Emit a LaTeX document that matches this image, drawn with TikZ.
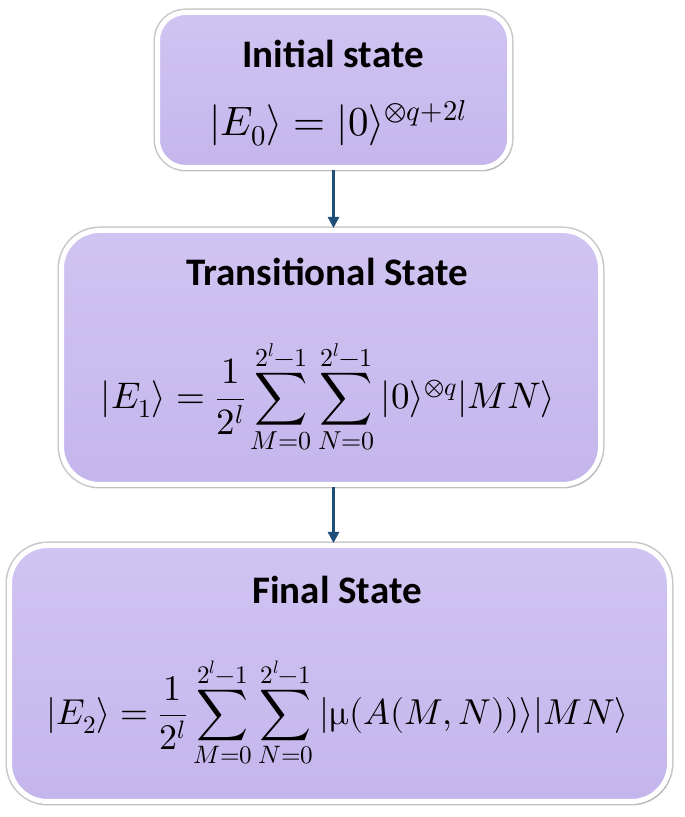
\documentclass[tikz,border=0pt]{standalone}
\usepackage{amsmath}
\usepackage{fontspec}
\usepackage{unicode-math}
\setmathfont{Latin Modern Math}
\newfontfamily\titlefont{Carlito}
\usetikzlibrary{arrows.meta,shadows}

\definecolor{boxtop}{RGB}{208,196,242}
\definecolor{boxbot}{RGB}{196,182,236}
\definecolor{flowblue}{RGB}{31,78,121}

\tikzset{
  statebox/.style={draw=white, line width=5pt, rounded corners=38pt,
    top color=boxtop, bottom color=boxbot,
    preaction={draw=black!22, line width=8pt},
    drop shadow={shadow xshift=2pt,shadow yshift=-3pt,opacity=0.3}},
  boxtitle/.style={font=\titlefont\bfseries\fontsize{39}{42}\selectfont, inner sep=0pt},
  boxeq/.style={font=\fontsize{#1}{40}\selectfont, inner sep=0pt},
  boxeq/.default=36,
  flow/.style={draw=flowblue, line width=2.5pt, -{Triangle[length=11pt,width=11pt]}}
}

\begin{document}
\begin{tikzpicture}[x=1pt,y=1pt]
\useasboundingbox[fill=white] (0,0) rectangle (685,817);
% boxes
\node[statebox, rounded corners=28pt, minimum width=352pt, minimum height=155pt] (init) at (333.5,727) {};
\node[statebox, minimum width=539pt, minimum height=254pt] (trans) at (331,459.5) {};
\node[statebox, minimum width=660pt, minimum height=256pt] (final) at (339.5,143.5) {};
% texts
\node[boxtitle] (inittitle) at (333,763) {Initial state};
\node[boxeq=41] (initeq) at (338,694) {$|E_0\rangle = |0\rangle^{\otimes q+2l}$};
\node[boxtitle] (transtitle) at (327,545) {Transitional State};
\node[boxeq=37] (transeq) at (328,420) {$\displaystyle |E_1\rangle = \frac{1}{2^{l}}\sum_{M=0}^{2^{l}-1}\sum_{N=0}^{2^{l}-1}|0\rangle^{\otimes q}|MN\rangle$};
\node[boxtitle] (finaltitle) at (337,227) {Final State};
\node[boxeq=36] (finaleq) at (338,104) {$\displaystyle |E_2\rangle = \frac{1}{2^{l}}\sum_{M=0}^{2^{l}-1}\sum_{N=0}^{2^{l}-1}|\upmu(A(M,N))\rangle|MN\rangle$};
% arrows
\draw[flow] (init.south) -- (init.south |- trans.north);
\draw[flow] (init.south |- trans.south) -- (init.south |- final.north);
\end{tikzpicture}
\end{document}
